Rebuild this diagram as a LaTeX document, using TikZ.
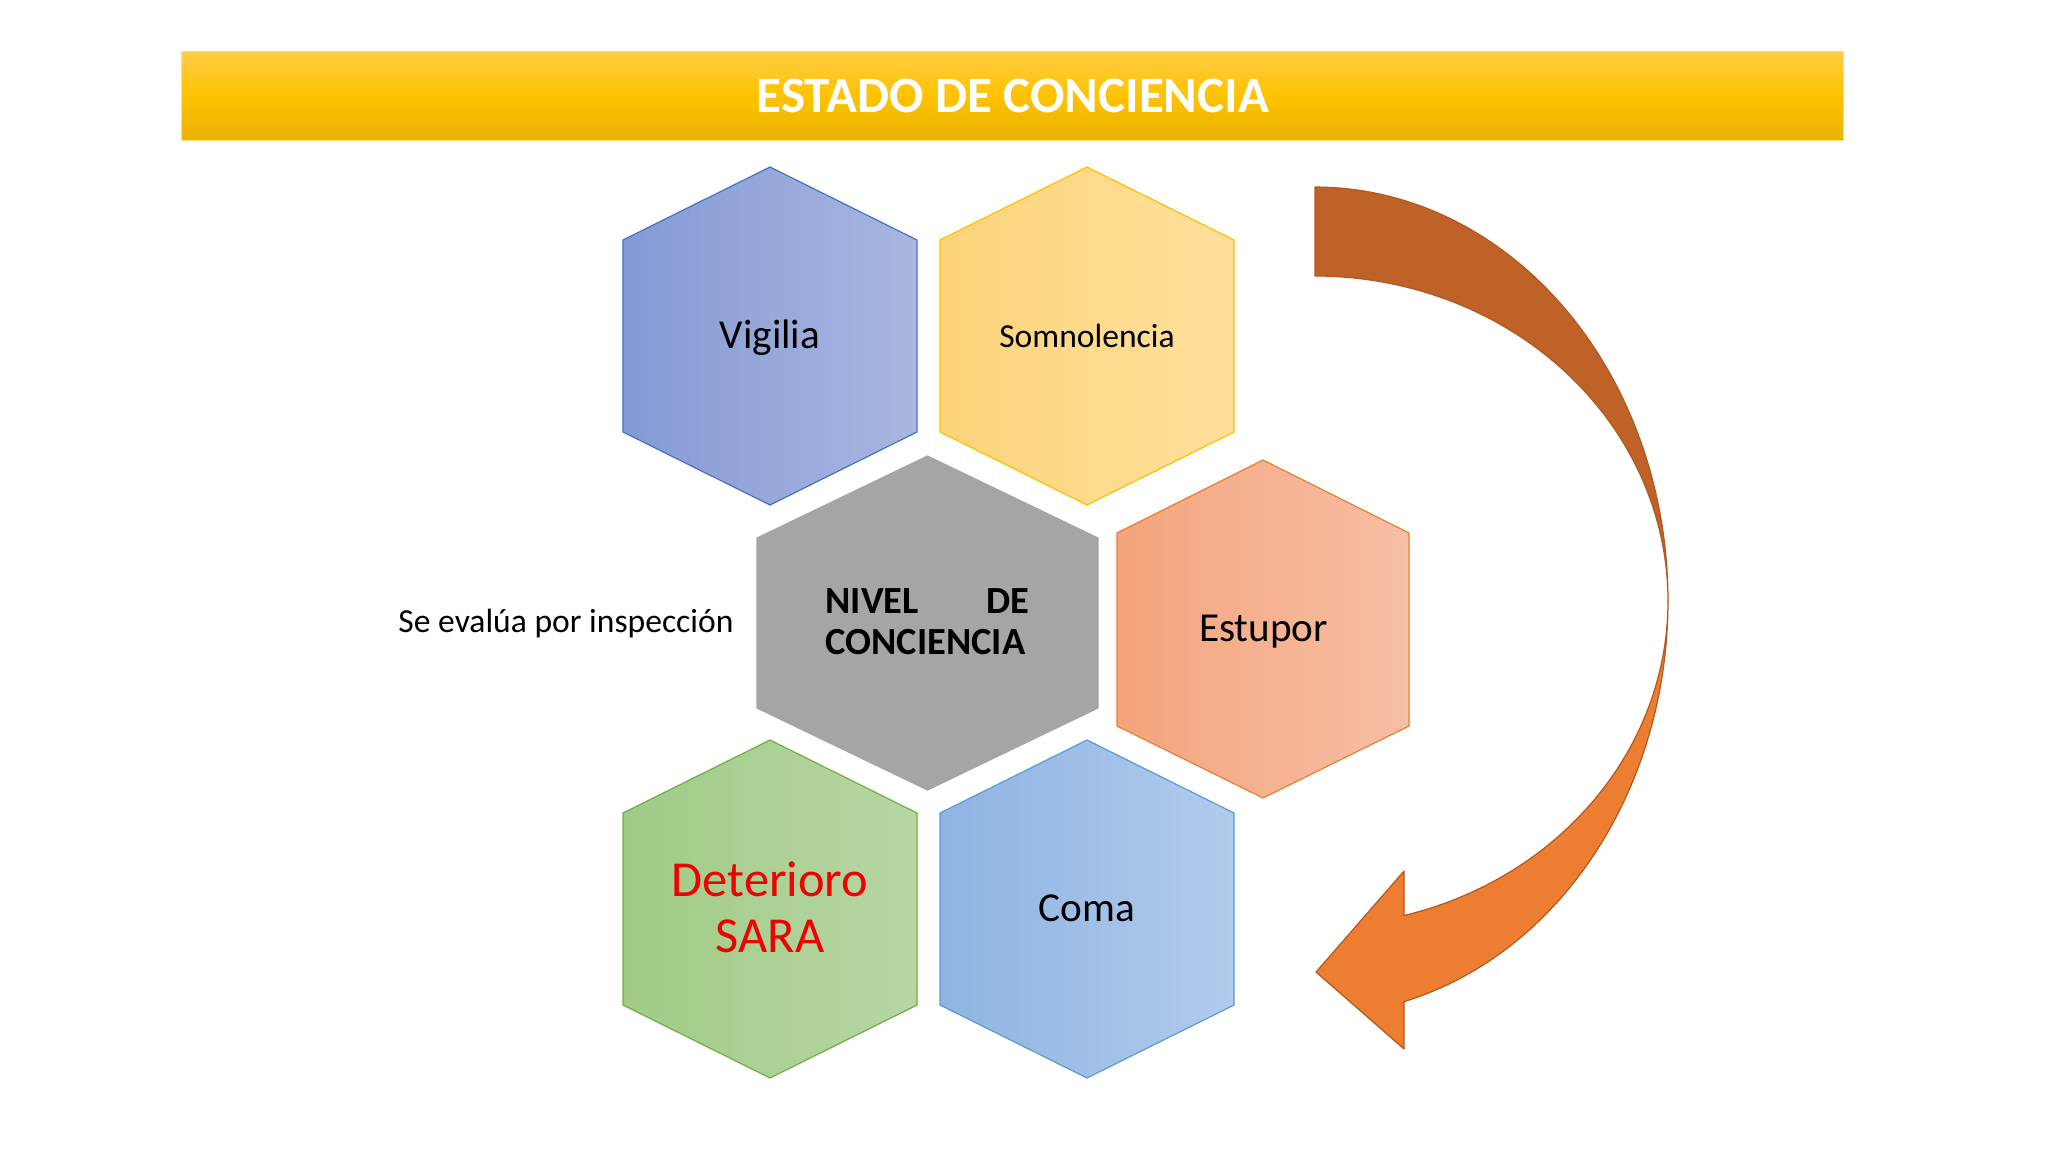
\documentclass[tikz,border=0pt]{standalone}
\usepackage{fontspec}
\setmainfont{Carlito}
\definecolor{banA}{RGB}{255,205,70}
\definecolor{banB}{RGB}{255,194,0}
\definecolor{banC}{RGB}{232,178,0}
\definecolor{banEdge}{RGB}{255,222,120}
\definecolor{vigL}{RGB}{132,153,213}
\definecolor{vigR}{RGB}{170,182,224}
\definecolor{vigD}{RGB}{68,114,196}
\definecolor{somL}{RGB}{253,212,122}
\definecolor{somR}{RGB}{254,223,155}
\definecolor{somD}{RGB}{255,192,0}
\definecolor{nivF}{RGB}{165,164,166}
\definecolor{estL}{RGB}{244,164,124}
\definecolor{estR}{RGB}{247,191,165}
\definecolor{estD}{RGB}{237,125,49}
\definecolor{detL}{RGB}{160,203,134}
\definecolor{detR}{RGB}{183,214,164}
\definecolor{detD}{RGB}{112,173,71}
\definecolor{comL}{RGB}{142,180,226}
\definecolor{comR}{RGB}{177,203,236}
\definecolor{comD}{RGB}{91,155,213}
\definecolor{arrDark}{RGB}{190,98,40}
\definecolor{arrLight}{RGB}{237,125,49}
\definecolor{arrEdge}{RGB}{180,88,30}
\definecolor{sarared}{RGB}{240,0,0}
\tikzset{
  hexa/.style={line width=0.6pt},
  lbl/.style={inner sep=0pt, outer sep=0pt, anchor=base, text=black},
  band/.style={draw=arrEdge, line width=0.6pt, line join=round},
}
\begin{document}
\begin{tikzpicture}[x=0.5pt,y=-0.5pt]
\useasboundingbox[fill=white] (0,0) rectangle (2048,1152);
% banner
\path[top color=banA, bottom color=banC, middle color=banB, draw=banEdge, line width=0.5pt] (181,51) rectangle (1843,140);
\node[lbl, text=white, font=\bfseries\fontsize{25.5pt}{30pt}\selectfont] (title) at (1013,112) {ESTADO DE CONCIENCIA};
% hexagons
\path[hexa, left color=vigL, right color=vigR, draw=vigD] (623,240) -- (770,167) -- (917,240) -- (917,432) -- (770,505) -- (623,432) -- cycle;
\path[hexa, left color=somL, right color=somR, draw=somD] (940,240) -- (1087,167) -- (1234,240) -- (1234,432) -- (1087,505) -- (940,432) -- cycle;
\path[hexa, fill=nivF, draw=nivF] (757,538) -- (927.5,456) -- (1098,538) -- (1098,708) -- (927.5,790) -- (757,708) -- cycle;
\path[hexa, left color=estL, right color=estR, draw=estD] (1117,533) -- (1263,460) -- (1409,533) -- (1409,726) -- (1263,798) -- (1117,726) -- cycle;
\path[hexa, left color=detL, right color=detR, draw=detD] (623,813) -- (770,740) -- (917,813) -- (917,1005) -- (770,1078) -- (623,1005) -- cycle;
\path[hexa, left color=comL, right color=comR, draw=comD] (940,813) -- (1087,740) -- (1234,813) -- (1234,1005) -- (1087,1078) -- (940,1005) -- cycle;
% labels
\node[lbl, font=\fontsize{20.6pt}{24pt}\selectfont] (vig) at (770,348) {Vigilia};
\node[lbl, font=\fontsize{16.8pt}{20pt}\selectfont] (som) at (1087,347) {Somnolencia};
\node[lbl, font=\fontsize{16.8pt}{20pt}\selectfont] (eval) at (566,632) {Se evalúa por inspección};
\node[lbl, font=\bfseries\fontsize{19.2pt}{20.5pt}\selectfont] (niv) at (927.5,613) {\parbox[t]{102pt}{NIVEL\hfill DE\\CONCIENCIA}};
\node[lbl, font=\fontsize{20.6pt}{24pt}\selectfont] (est) at (1263.5,641) {Estupor};
\node[lbl, text=sarared, font=\fontsize{25.2pt}{28pt}\selectfont] (det) at (770,896) {\parbox[t]{130pt}{\centering Deterioro\\SARA}};
\node[lbl, font=\fontsize{20.6pt}{24pt}\selectfont] (com) at (1087,921) {Coma};
% curved arrow: back (upper) band
\path[band, fill=arrDark]
  plot[domain=-90:0, samples=60] ({1315+353*cos(\x)},{601+414*sin(\x)})
  -- plot[domain=0:-90, samples=60] ({1315+353*cos(\x)},{601+325*sin(\x)})
  -- cycle;
% front (lower) band with head
\path[band, fill=arrLight]
  plot[domain=0:75.4, samples=60] ({1315+353*cos(\x)},{601+414*sin(\x)})
  -- (1404,1049) -- (1316,972) -- (1404,871) -- (1404,915.5)
  -- plot[domain=75.4:0, samples=60] ({1315+353*cos(\x)},{601+325*sin(\x)})
  -- cycle;
\end{tikzpicture}
\end{document}
